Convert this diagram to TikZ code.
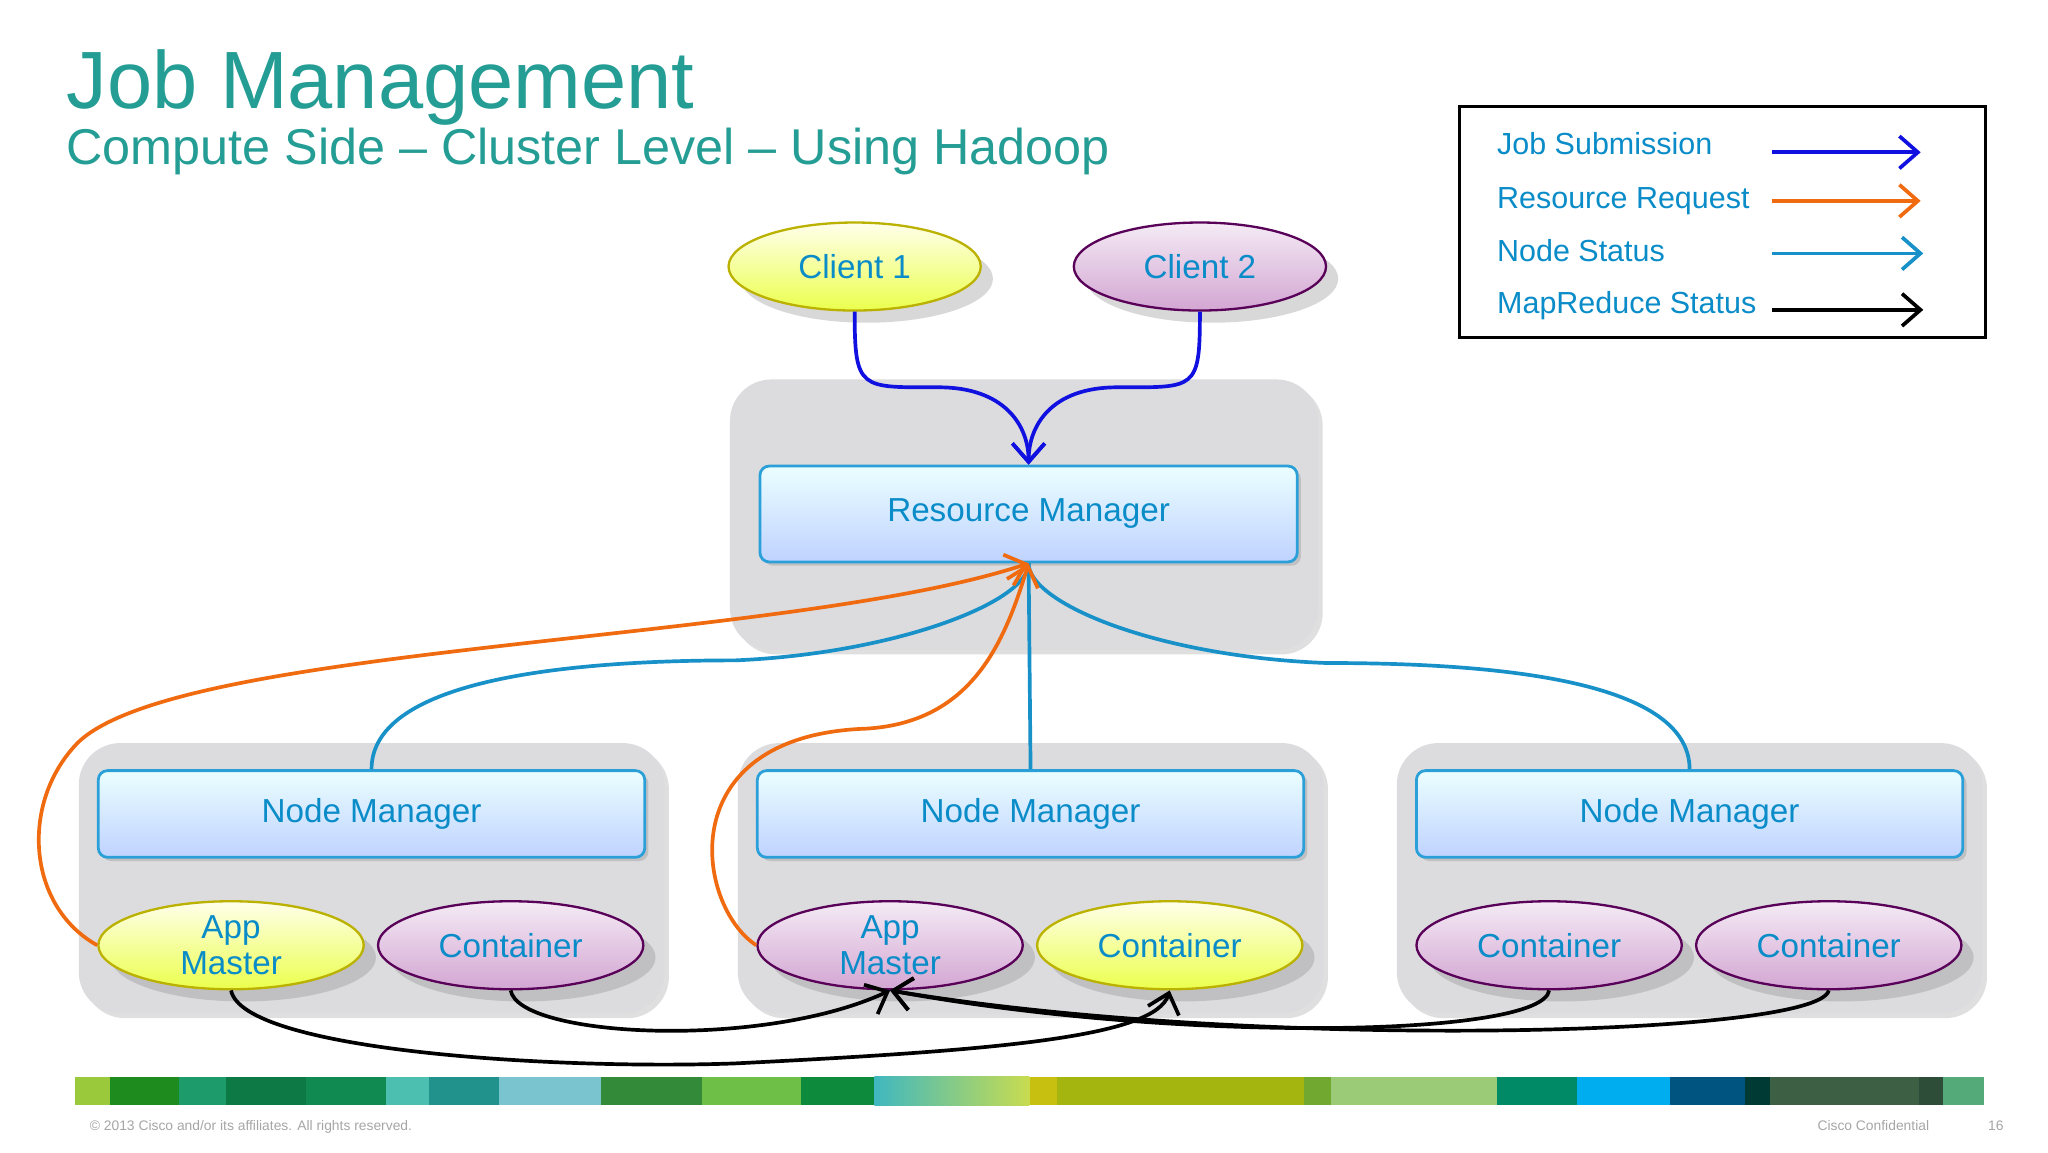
\documentclass[tikz,border=0pt]{standalone}
\usepackage{fontspec}
\setmainfont{Liberation Sans}
\usetikzlibrary{shapes.geometric,shadows,arrows.meta,positioning}
\definecolor{txt}{HTML}{0A8CC8}
\definecolor{tealt}{HTML}{159FBF}
\definecolor{greent}{HTML}{3A9A55}
\definecolor{panel}{HTML}{DCDCDF}
\definecolor{bord}{HTML}{2BA0D8}
\definecolor{jobc}{HTML}{1010E0}
\definecolor{resc}{HTML}{F06A10}
\definecolor{nodc}{HTML}{1890C8}
\begin{document}
\begin{tikzpicture}[x=0.01cm,y=-0.01cm,
  panel/.style={fill=panel,draw=none,rounded corners=9pt,drop shadow={opacity=0.25,shadow xshift=1pt,shadow yshift=-1pt}},
  box/.style={draw=bord,line width=0.6pt,rounded corners=2pt,top color=blue!3!cyan!8,bottom color=cyan!30!blue!25!white,text=txt,font=\fontsize{7.2}{8}\selectfont,drop shadow={opacity=0.3,shadow xshift=0.8pt,shadow yshift=-0.8pt}},
  yel/.style={ellipse,draw=olive!60!yellow,line width=0.5pt,top color=yellow!8,bottom color=yellow!55!lime!70!white,text=txt,font=\fontsize{7.2}{8}\selectfont,minimum width=202\pgflinewidth,align=center,inner sep=0pt,drop shadow={opacity=0.3}},
  pur/.style={ellipse,draw=violet!70!black,line width=0.5pt,top color=violet!8,bottom color=violet!35,text=txt,font=\fontsize{7.2}{8}\selectfont,align=center,inner sep=0pt,drop shadow={opacity=0.3}},
  el/.style={minimum width=2.02cm,minimum height=0.67cm},
  cl/.style={minimum width=1.92cm,minimum height=0.67cm},
  job/.style={draw=jobc,line width=0.8pt,-{Straight Barb[length=4pt,width=7pt]}},
  res/.style={draw=resc,line width=0.8pt,-{Straight Barb[length=4pt,width=7pt]}},
  nod/.style={draw=nodc,line width=0.8pt},
  nodA/.style={nod,-{Straight Barb[length=4pt,width=7pt]}},
  mr/.style={draw=black,line width=0.8pt,-{Straight Barb[length=4pt,width=7pt]}},
  leg/.style={text=txt,font=\fontsize{6.6}{8}\selectfont,anchor=base west},
  foot/.style={text=gray!70,font=\fontsize{3}{4}\selectfont,anchor=base west}
]
\useasboundingbox (0,0) rectangle (1560,877.5);
\fill[white] (0,0) rectangle (1560,877.5);
% title
\node[anchor=base west,inner sep=0pt,text=tealt!60!greent,font=\fontsize{17.6}{20}\selectfont] (title) at (50,83) {Job Management};
\node[anchor=base west,inner sep=0pt,text=tealt!60!greent,font=\fontsize{10.9}{13}\selectfont] (sub) at (50,125) {Compute Side – Cluster Level – Using Hadoop};
% panels
\path[panel] (556,289) rectangle (1004,495);
\path[panel] (60,566) rectangle (506,772);
\path[panel] (562,566) rectangle (1008,772);
\path[panel] (1064,566) rectangle (1510,772);
% boxes
\node[box,minimum width=4.09cm,minimum height=0.73cm] (rm) at (783.5,391.5) {Resource Manager};
\node[box,minimum width=4.16cm,minimum height=0.66cm] (nm1) at (283,620) {Node Manager};
\node[box,minimum width=4.16cm,minimum height=0.66cm] (nm2) at (785,620) {Node Manager};
\node[box,minimum width=4.16cm,minimum height=0.66cm] (nm3) at (1287,620) {Node Manager};
% ellipses
\node[yel,cl] (c1) at (651,203) {Client 1};
\node[pur,cl] (c2) at (914,203) {Client 2};
\node[yel,el] (am1) at (176,720) {App\\Master};
\node[pur,el] (ct1) at (389,720) {Container};
\node[pur,el] (am2) at (678,720) {App\\Master};
\node[yel,el] (ct2) at (891,720) {Container};
\node[pur,el] (ct3) at (1180,720) {Container};
\node[pur,el] (ct4) at (1393,720) {Container};
% job submission
\draw[job] (c1.south) .. controls +(0,60) and +(-60,0) .. (715,295) .. controls +(50,0) and +(0,-30) .. (rm.north);
\draw[job] (c2.south) .. controls +(0,60) and +(60,0) .. (851,295) .. controls +(-50,0) and +(0,-30) .. (rm.north);
% node status
\draw[nod] (nm1.north) .. controls +(0,-70) and +(-120,0) .. (560,503) .. controls +(120,-5) and +(0,30) .. (rm.south);
\draw[nod] (nm2.north) -- (rm.south);
\draw[nod] (nm3.north) .. controls +(0,-70) and +(120,0) .. (1010,505) .. controls +(-130,-5) and +(0,30) .. (rm.south);
% resource requests
\draw[res] (am1.west) .. controls (20,690) and (15,610) .. (60,565) .. controls (140,490) and (600,490) .. (rm.south);
\draw[res] (am2.west) .. controls (530,690) and (510,560) .. (660,555) .. controls (740,550) and (765,490) .. (rm.south);
% mapreduce status
\draw[mr] (am1.south) .. controls (185,800) and (420,815) .. (560,810) .. controls (760,800) and (880,790) .. (ct2.south);
\draw[mr] (ct1.south) .. controls (395,790) and (580,800) .. (am2.south);
\draw[mr] (ct3.south) .. controls (1175,790) and (900,795) .. (am2.south);
\draw[mr] (ct4.south) .. controls (1385,790) and (950,800) .. (am2.south);
% legend
\node[draw=black,line width=0.6pt,minimum width=4cm,minimum height=1.76cm,inner sep=0pt] (lg) at (1312,169) {};
\node[leg] (l1) at (1128,118) {Job Submission};
\node[leg] (l2) at (1128,159) {Resource Request};
\node[leg] (l3) at (1128,199) {Node Status};
\node[leg] (l4) at (1128,239) {MapReduce Status};
\coordinate (a1) at (1350,116); \coordinate (b1) at (1463,116);
\coordinate (a2) at (1350,153); \coordinate (b2) at (1463,153);
\coordinate (a3) at (1350,193); \coordinate (b3) at (1465,193);
\coordinate (a4) at (1350,236); \coordinate (b4) at (1465,236);
\draw[job] (a1) -- (b1);
\draw[res] (a2) -- (b2);
\draw[nodA] (a3) -- (b3);
\draw[mr] (a4) -- (b4);
% color bar
\foreach \a/\b/\c in {57/84/9ACA3C,84/136/1E8B1E,136/172/1E9B6A,172/233/0D7A45,233/294/108A50,294/327/4DBFB0,327/380/22938C,380/458/7AC4D0,458/535/338A38,535/610/6DBF48,610/666/0D8A3C,784/805/C8C010,805/993/A5B50F,993/1014/70A830,1014/1140/9CCB78,1140/1201/008A65,1201/1272/00AEEF,1272/1329/005580,1329/1348/003A35,1348/1462/3D6045,1462/1480/2D4D38,1480/1511/55AA7A}{
  \definecolor{bc}{HTML}{\c}\fill[bc] (\a,820) rectangle (\b,842);}
\definecolor{gl}{HTML}{40B8C0}\definecolor{gr}{HTML}{C8DC50}
\fill[left color=gl,right color=gr] (666,820) rectangle (784,842);
% footer
\node[foot] (f1) at (56,861) {© 2013 Cisco and/or its affiliates. All rights reserved.};
\node[foot] (f2) at (1372,861) {Cisco Confidential};
\node[foot] (f3) at (1502,861) {16};
\end{tikzpicture}
\end{document}
